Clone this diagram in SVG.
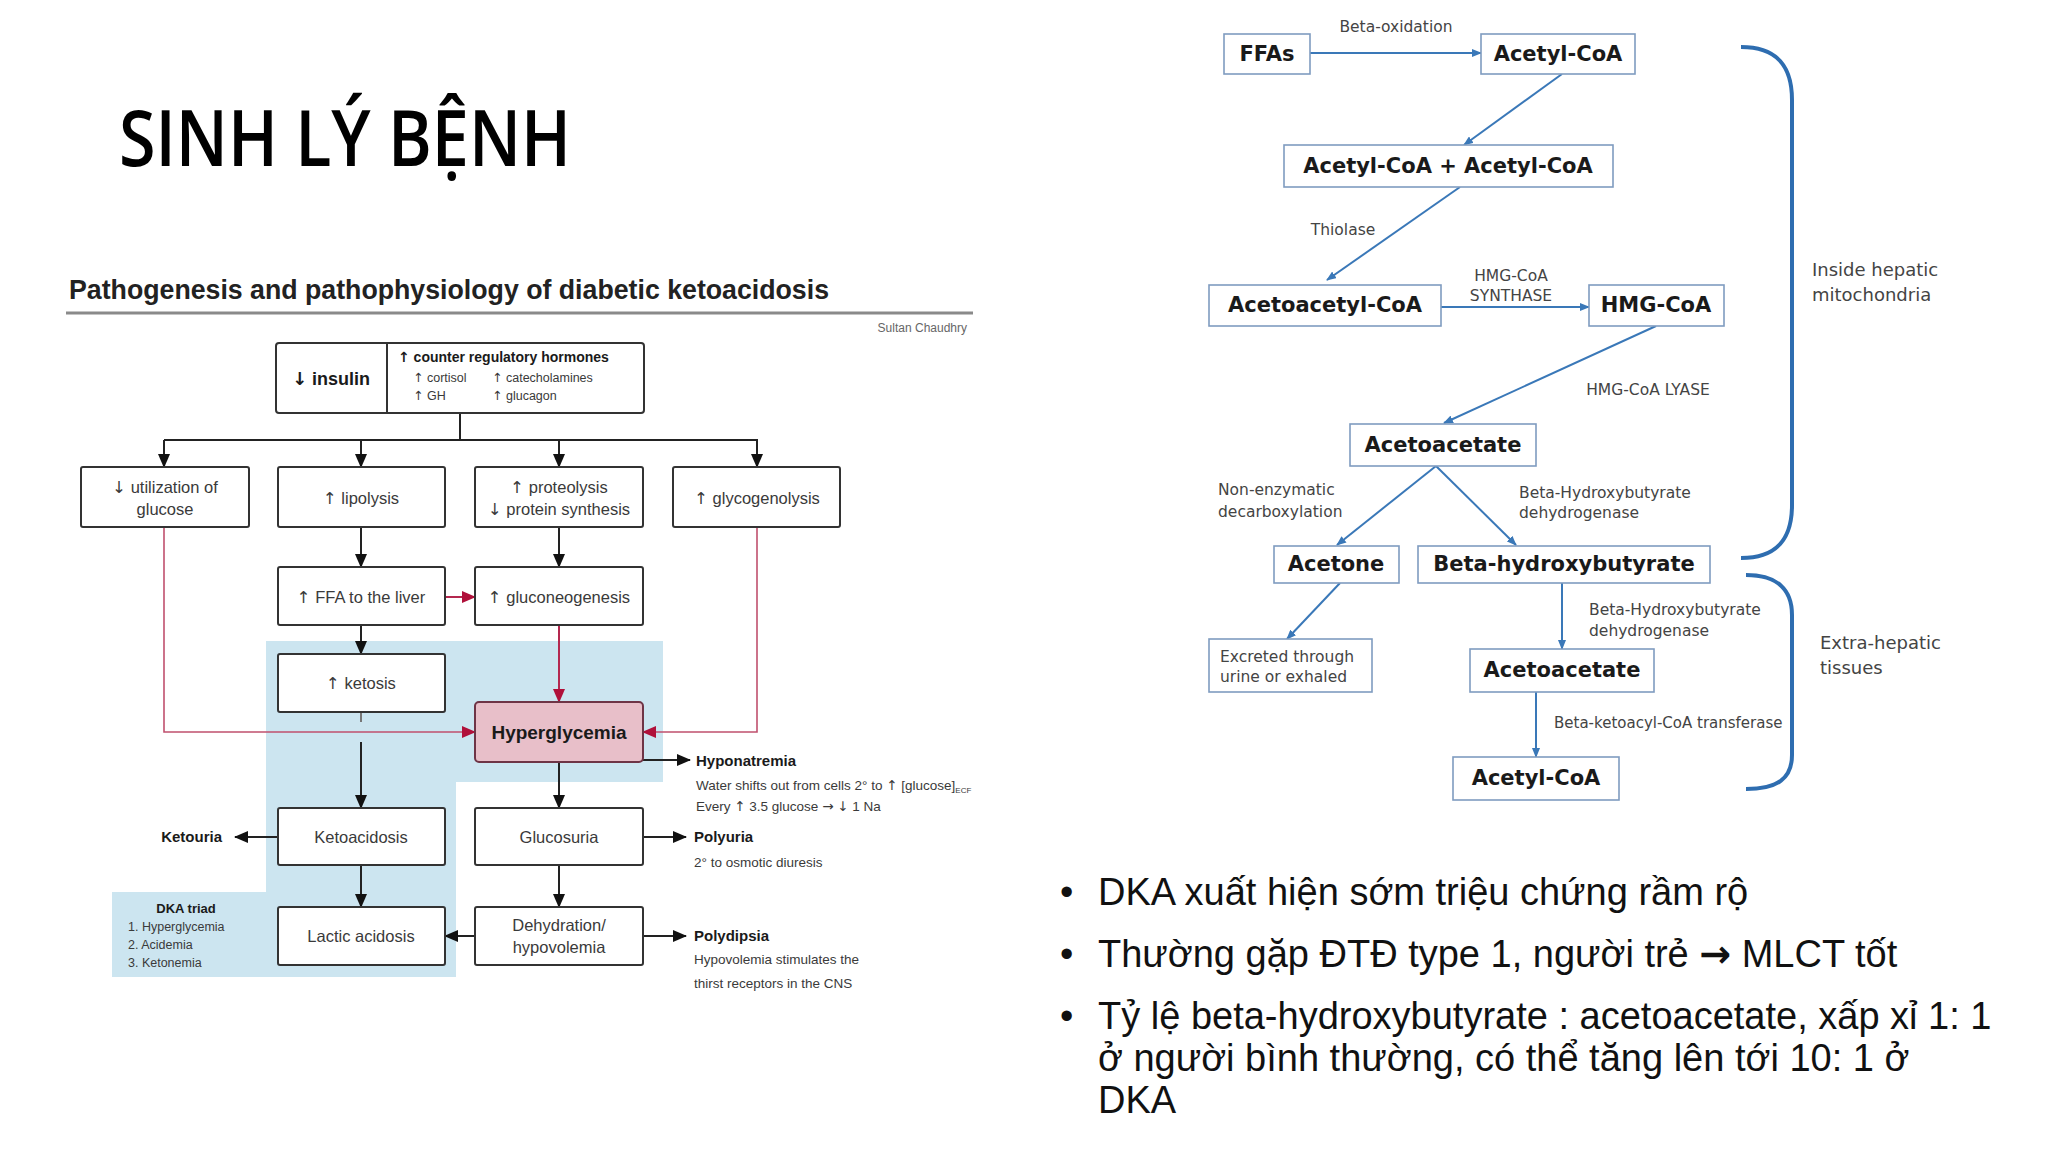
<svg xmlns="http://www.w3.org/2000/svg" width="2048" height="1152" viewBox="0 0 2048 1152">
<style>
.bx{fill:#fff;stroke:#333;stroke-width:2}
.lt{font-family:"Liberation Sans",Arial,sans-serif;font-size:16.5px;fill:#3a3a3a;text-anchor:middle}
.lb{font-family:"Liberation Sans",Arial,sans-serif;font-weight:bold;fill:#1a1a1a}
.ls{font-family:"Liberation Sans",Arial,sans-serif;font-size:13.5px;fill:#3a3a3a}
.a{font-family:"DejaVu Sans",sans-serif}
.k{stroke:#222;stroke-width:2;fill:none}
.r{stroke:#b4284f;stroke-width:2;fill:none}
.rb{fill:#fff;stroke:#7f9cc0;stroke-width:1.6}
.rt{font-family:"DejaVu Sans",Verdana,sans-serif;font-weight:bold;font-size:21px;fill:#1a1a1a;text-anchor:middle}
.rl{font-family:"DejaVu Sans",Verdana,sans-serif;font-size:15.5px;fill:#444}
.rm{font-family:"DejaVu Sans",Verdana,sans-serif;font-size:18px;fill:#444}
.ra{stroke:#3a78b8;stroke-width:2;fill:none}
.br{stroke:#2e6db0;stroke-width:4;fill:none}
.bul{font-family:"Liberation Sans",Arial,sans-serif;font-size:38px;fill:#111}
</style>
<defs>
<marker id="ak" markerUnits="userSpaceOnUse" markerWidth="14" markerHeight="12" refX="13" refY="6" orient="auto"><path d="M0,0 L14,6 L0,12 Z" fill="#111"/></marker>
<marker id="ar" markerUnits="userSpaceOnUse" markerWidth="14" markerHeight="12" refX="13" refY="6" orient="auto"><path d="M0,0 L14,6 L0,12 Z" fill="#b0103a"/></marker>
<marker id="ab" markerUnits="userSpaceOnUse" markerWidth="10" markerHeight="8" refX="9" refY="4" orient="auto"><path d="M0,0 L10,4 L0,8 Z" fill="#3a78b8"/></marker>
</defs>
<rect width="2048" height="1152" fill="#fff"/>

<text x="119" y="166" font-family="'Open Sans','Noto Sans',sans-serif" font-weight="600" font-size="78" fill="#000" textLength="452" lengthAdjust="spacingAndGlyphs">SINH LÝ BỆNH</text>

<!-- left figure header -->
<text x="69" y="299" font-family="'Liberation Sans',Arial,sans-serif" font-weight="bold" font-size="28" fill="#222" textLength="760" lengthAdjust="spacingAndGlyphs">Pathogenesis and pathophysiology of diabetic ketoacidosis</text>
<line x1="66" y1="313" x2="973" y2="313" stroke="#8a8a8a" stroke-width="3"/>
<text x="967" y="332" font-family="'Liberation Sans',Arial,sans-serif" font-size="12" fill="#666" text-anchor="end">Sultan Chaudhry</text>

<!-- blue region -->
<path d="M266,641 H663 V782 H456 V977 H112 V892 H266 Z" fill="#cce5f0"/>

<!-- connectors left -->
<g id="connectors-left">
<line class="k" x1="460" y1="413" x2="460" y2="440"/>
<line class="k" x1="164" y1="440" x2="758" y2="440"/>
<line class="k" x1="164" y1="440" x2="164" y2="467" marker-end="url(#ak)"/>
<line class="k" x1="361" y1="440" x2="361" y2="467" marker-end="url(#ak)"/>
<line class="k" x1="559" y1="440" x2="559" y2="467" marker-end="url(#ak)"/>
<line class="k" x1="757" y1="440" x2="757" y2="467" marker-end="url(#ak)"/>
<line class="k" x1="361" y1="527" x2="361" y2="567" marker-end="url(#ak)"/>
<line class="k" x1="559" y1="527" x2="559" y2="567" marker-end="url(#ak)"/>
<line class="r" x1="445" y1="597" x2="475" y2="597" marker-end="url(#ar)"/>
<line class="k" x1="361" y1="625" x2="361" y2="654" marker-end="url(#ak)"/>
<line class="r" x1="559" y1="625" x2="559" y2="702" marker-end="url(#ar)"/>
<path d="M164,527 V732 H475" stroke="#c0506e" stroke-width="1.6" fill="none" marker-end="url(#ar)"/>
<path d="M757,527 V732 H643" stroke="#c0506e" stroke-width="1.6" fill="none" marker-end="url(#ar)"/>
<line x1="361" y1="712" x2="361" y2="722" stroke="#777" stroke-width="2"/>
<line class="k" x1="361" y1="742" x2="361" y2="808" marker-end="url(#ak)"/>
<line class="k" x1="559" y1="762" x2="559" y2="808" marker-end="url(#ak)"/>
<line class="k" x1="643" y1="760" x2="690" y2="760" marker-end="url(#ak)"/>
<line class="k" x1="278" y1="837" x2="235" y2="837" marker-end="url(#ak)"/>
<line class="k" x1="643" y1="837" x2="686" y2="837" marker-end="url(#ak)"/>
<line class="k" x1="361" y1="865" x2="361" y2="907" marker-end="url(#ak)"/>
<line class="k" x1="559" y1="865" x2="559" y2="907" marker-end="url(#ak)"/>
<line class="k" x1="475" y1="936" x2="445" y2="936" marker-end="url(#ak)"/>
<line class="k" x1="643" y1="936" x2="686" y2="936" marker-end="url(#ak)"/>
</g>

<!-- left nodes -->
<g id="hormones">
<rect class="bx" x="276" y="343" width="368" height="70" rx="3"/>
<line x1="387" y1="343" x2="387" y2="413" stroke="#333" stroke-width="2"/>
<text class="lb" x="331" y="385" font-size="18" text-anchor="middle"><tspan class="a">↓</tspan> insulin</text>
<text class="lb" x="398" y="362" font-size="14"><tspan class="a">↑</tspan> counter regulatory hormones</text>
<text class="ls" x="413" y="382" style="font-size:12.5px"><tspan class="a">↑</tspan> cortisol</text>
<text class="ls" x="492" y="382" style="font-size:12.5px"><tspan class="a">↑</tspan> catecholamines</text>
<text class="ls" x="413" y="400" style="font-size:12.5px"><tspan class="a">↑</tspan> GH</text>
<text class="ls" x="492" y="400" style="font-size:12.5px"><tspan class="a">↑</tspan> glucagon</text>
</g>
<g id="utilization"><rect class="bx" x="81" y="467" width="168" height="60" rx="2"/><text class="lt" x="165" y="493"><tspan class="a">↓</tspan> utilization of</text><text class="lt" x="165" y="515">glucose</text></g>
<g id="lipolysis"><rect class="bx" x="278" y="467" width="167" height="60" rx="2"/><text class="lt" x="361" y="504"><tspan class="a">↑</tspan> lipolysis</text></g>
<g id="proteolysis"><rect class="bx" x="475" y="467" width="168" height="60" rx="2"/><text class="lt" x="559" y="493"><tspan class="a">↑</tspan> proteolysis</text><text class="lt" x="559" y="515"><tspan class="a">↓</tspan> protein synthesis</text></g>
<g id="glycogenolysis"><rect class="bx" x="673" y="467" width="167" height="60" rx="2"/><text class="lt" x="757" y="504"><tspan class="a">↑</tspan> glycogenolysis</text></g>
<g id="ffa"><rect class="bx" x="278" y="567" width="167" height="58" rx="2"/><text class="lt" x="361" y="603"><tspan class="a">↑</tspan> FFA to the liver</text></g>
<g id="gluconeogenesis"><rect class="bx" x="475" y="567" width="168" height="58" rx="2"/><text class="lt" x="559" y="603"><tspan class="a">↑</tspan> gluconeogenesis</text></g>
<g id="ketosis"><rect class="bx" x="278" y="654" width="167" height="58" rx="2"/><text class="lt" x="361" y="689"><tspan class="a">↑</tspan> ketosis</text></g>
<g id="hyperglycemia"><rect x="475" y="702" width="168" height="60" rx="4" fill="#e8bfc9" stroke="#6e3446" stroke-width="2"/><text class="lb" x="559" y="739" font-size="19" text-anchor="middle">Hyperglycemia</text></g>
<g id="ketoacidosis"><rect class="bx" x="278" y="808" width="167" height="57" rx="2"/><text class="lt" x="361" y="843">Ketoacidosis</text></g>
<g id="glucosuria"><rect class="bx" x="475" y="808" width="168" height="57" rx="2"/><text class="lt" x="559" y="843">Glucosuria</text></g>
<g id="lactic"><rect class="bx" x="278" y="907" width="167" height="58" rx="2"/><text class="lt" x="361" y="942">Lactic acidosis</text></g>
<g id="dehydration"><rect class="bx" x="475" y="907" width="168" height="58" rx="2"/><text class="lt" x="559" y="931">Dehydration/</text><text class="lt" x="559" y="953">hypovolemia</text></g>

<g id="hyponatremia">
<text class="lb" x="696" y="766" font-size="15">Hyponatremia</text>
<text class="ls" x="696" y="790">Water shifts out from cells 2° to <tspan class="a">↑</tspan> [glucose]<tspan font-size="8" dy="3">ECF</tspan></text>
<text class="ls" x="696" y="811">Every <tspan class="a">↑</tspan> 3.5 glucose <tspan class="a">→</tspan> <tspan class="a">↓</tspan> 1 Na</text>
</g>
<g id="ketouria"><text class="lb" x="222" y="842" font-size="15" text-anchor="end">Ketouria</text></g>
<g id="polyuria"><text class="lb" x="694" y="842" font-size="15">Polyuria</text><text class="ls" x="694" y="867">2° to osmotic diuresis</text></g>
<g id="polydipsia"><text class="lb" x="694" y="941" font-size="15">Polydipsia</text><text class="ls" x="694" y="964">Hypovolemia stimulates the</text><text class="ls" x="694" y="988">thirst receptors in the CNS</text></g>
<g id="dka-triad">
<text class="lb" x="186" y="913" font-size="13" text-anchor="middle">DKA triad</text>
<text class="ls" x="128" y="931" style="font-size:12.5px">1. Hyperglycemia</text>
<text class="ls" x="128" y="949" style="font-size:12.5px">2. Acidemia</text>
<text class="ls" x="128" y="967" style="font-size:12.5px">3. Ketonemia</text>
</g>

<!-- right diagram connectors -->
<g id="connectors-right">
<line class="ra" x1="1310" y1="53" x2="1481" y2="53" marker-end="url(#ab)"/>
<line class="ra" x1="1562" y1="74" x2="1464" y2="145" marker-end="url(#ab)"/>
<line class="ra" x1="1460" y1="187" x2="1327" y2="280" marker-end="url(#ab)"/>
<line class="ra" x1="1441" y1="307" x2="1589" y2="307" marker-end="url(#ab)"/>
<line class="ra" x1="1656" y1="326" x2="1444" y2="423" marker-end="url(#ab)"/>
<line class="ra" x1="1436" y1="466" x2="1337" y2="545" marker-end="url(#ab)"/>
<line class="ra" x1="1436" y1="466" x2="1516" y2="545" marker-end="url(#ab)"/>
<line class="ra" x1="1340" y1="583" x2="1287" y2="639" marker-end="url(#ab)"/>
<line class="ra" x1="1562" y1="583" x2="1562" y2="649" marker-end="url(#ab)"/>
<line class="ra" x1="1536" y1="692" x2="1536" y2="757" marker-end="url(#ab)"/>
<path class="br" d="M1741,47 C1776,47 1792,65 1792,100 L1792,505 C1792,540 1776,558 1741,558"/>
<path class="br" d="M1746,575 C1778,575 1792,590 1792,615 L1792,755 C1792,778 1778,789 1746,789"/>
</g>

<g id="ffas"><rect class="rb" x="1224" y="34" width="86" height="40"/><text class="rt" x="1267" y="61">FFAs</text></g>
<g id="acetylcoa1"><rect class="rb" x="1481" y="34" width="154" height="40"/><text class="rt" x="1558" y="61">Acetyl-CoA</text></g>
<g id="acetylcoa-pair"><rect class="rb" x="1284" y="145" width="329" height="42"/><text class="rt" x="1448" y="173">Acetyl-CoA + Acetyl-CoA</text></g>
<g id="acetoacetylcoa"><rect class="rb" x="1209" y="285" width="232" height="41"/><text class="rt" x="1325" y="312">Acetoacetyl-CoA</text></g>
<g id="hmgcoa"><rect class="rb" x="1589" y="285" width="135" height="41"/><text class="rt" x="1656" y="312">HMG-CoA</text></g>
<g id="acetoacetate1"><rect class="rb" x="1350" y="424" width="186" height="42"/><text class="rt" x="1443" y="452">Acetoacetate</text></g>
<g id="acetone"><rect class="rb" x="1274" y="546" width="125" height="37"/><text class="rt" x="1336" y="571">Acetone</text></g>
<g id="bhb"><rect class="rb" x="1418" y="546" width="292" height="37"/><text class="rt" x="1564" y="571">Beta-hydroxybutyrate</text></g>
<g id="excreted"><rect class="rb" x="1209" y="639" width="163" height="53"/><text class="rl" x="1220" y="662">Excreted through</text><text class="rl" x="1220" y="682">urine or exhaled</text></g>
<g id="acetoacetate2"><rect class="rb" x="1470" y="649" width="184" height="43"/><text class="rt" x="1562" y="677">Acetoacetate</text></g>
<g id="acetylcoa2"><rect class="rb" x="1453" y="757" width="166" height="43"/><text class="rt" x="1536" y="785">Acetyl-CoA</text></g>

<g id="labels-right">
<text class="rl" x="1396" y="32" text-anchor="middle">Beta-oxidation</text>
<text class="rl" x="1343" y="235" text-anchor="middle">Thiolase</text>
<text class="rl" x="1511" y="281" text-anchor="middle">HMG-CoA</text>
<text class="rl" x="1511" y="301" text-anchor="middle">SYNTHASE</text>
<text class="rl" x="1648" y="395" text-anchor="middle">HMG-CoA LYASE</text>
<text class="rl" x="1218" y="495">Non-enzymatic</text>
<text class="rl" x="1218" y="517">decarboxylation</text>
<text class="rl" x="1519" y="498">Beta-Hydroxybutyrate</text>
<text class="rl" x="1519" y="518">dehydrogenase</text>
<text class="rl" x="1589" y="615">Beta-Hydroxybutyrate</text>
<text class="rl" x="1589" y="636">dehydrogenase</text>
<text class="rl" x="1554" y="728" style="font-size:15px">Beta-ketoacyl-CoA transferase</text>
<text class="rm" x="1812" y="276">Inside hepatic</text>
<text class="rm" x="1812" y="301">mitochondria</text>
<text class="rm" x="1820" y="649">Extra-hepatic</text>
<text class="rm" x="1820" y="674">tissues</text>
</g>

<g id="bullets">
<text class="bul" x="1060" y="905">•</text>
<text class="bul" x="1098" y="905">DKA xuất hiện sớm triệu chứng rầm rộ</text>
<text class="bul" x="1060" y="967">•</text>
<text class="bul" x="1098" y="967">Thường gặp ĐTĐ type 1, người trẻ <tspan class="a" font-weight="bold">→</tspan> MLCT tốt</text>
<text class="bul" x="1060" y="1029">•</text>
<text class="bul" x="1098" y="1029">Tỷ lệ beta-hydroxybutyrate : acetoacetate, xấp xỉ 1: 1</text>
<text class="bul" x="1098" y="1071">ở người bình thường, có thể tăng lên tới 10: 1 ở</text>
<text class="bul" x="1098" y="1113">DKA</text>
</g>
</svg>
